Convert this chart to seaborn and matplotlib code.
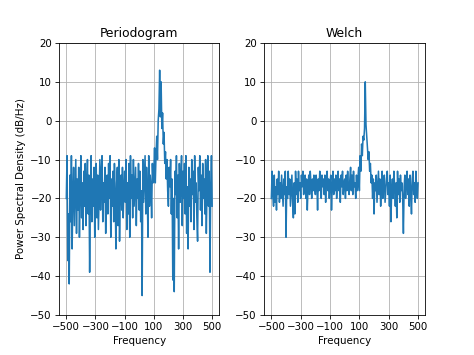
import numpy as np
import pandas as pd
import matplotlib
matplotlib.use("Agg")
import matplotlib.pyplot as plt
import seaborn as sns

# Periodogram PSD (dB/Hz), frequencies -500..500 step 5
periodogram_db = [
    -20, -9, -36, -24, -42, -14, -26, -9, -33, -18,
    -12, -27, -19, -10, -29, -15, -23, -12, -30, -18,
    -9, -25, -16, -28, -13, -22, -11, -27, -17, -10,
    -24, -14, -39, -19, -9, -26, -15, -22, -12, -30,
    -17, -11, -25, -14, -28, -19, -10, -23, -13, -9,
    -26, -16, -21, -12, -29, -18, -14, -24, -11, -20,
    -9, -30, -15, -22, -13, -26, -11, -19, -33, -16,
    -12, -27, -10, -31, -18, -14, -23, -12, -25, -17,
    -13, -21, -10, -28, -16, -24, -11, -30, -9, -20,
    -14, -25, -10, -22, -17, -12, -27, -15, -20, -11,
    -23, -13, -26, -18, -45, -10, -21, -15, -9, -24,
    -12, -19, -30, -9, -22, -14, -17, -25, -11, -16,
    -13, -7, -16, -9, -4, -10, 0, 3, 13, 1,
    10, -2, 2, -6, -3, -11, -8, -15, -10, -18,
    -22, -12, -17, -10, -24, -15, -41, -20, -44, -13,
    -19, -9, -25, -14, -33, -11, -21, -16, -9, -27,
    -13, -20, -11, -24, -9, -29, -17, -33, -12, -22,
    -15, -26, -10, -19, -13, -28, -9, -21, -16, -25,
    -31, -12, -18, -9, -23, -14, -27, -11, -20, -15,
    -24, -10, -29, -17, -9, -22, -13, -39, -18, -9,
    -22,
]

# Welch PSD (dB/Hz), frequencies -500..500 step 5
welch_db = [
    -20, -13, -19, -22, -14, -21, -17, -23, -15, -19,
    -13, -21, -16, -20, -14, -18, -22, -15, -19, -13,
    -30, -17, -20, -13, -19, -15, -22, -18, -14, -21,
    -25, -16, -24, -13, -19, -15, -21, -13, -18, -16,
    -20, -14, -17, -13, -19, -16, -14, -20, -15, -23,
    -17, -14, -19, -13, -16, -20, -15, -18, -14, -17,
    -19, -14, -16, -23, -15, -18, -13, -17, -20, -14,
    -17, -15, -19, -14, -21, -16, -13, -18, -15, -20,
    -16, -14, -23, -17, -13, -19, -15, -18, -14, -20,
    -16, -13, -18, -15, -21, -14, -17, -13, -19, -16,
    -15, -20, -14, -18, -13, -17, -19, -15, -12, -18,
    -14, -19, -13, -17, -16, -20, -14, -18, -15, -12,
    -18, -9, -13, -6, -9, -4, -5, -2, 10, -1,
    -4, -7, -10, -8, -13, -11, -16, -14, -20, -15,
    -24, -16, -18, -14, -21, -17, -13, -19, -15, -22,
    -17, -13, -20, -16, -14, -21, -18, -15, -13, -19,
    -16, -22, -14, -26, -18, -15, -20, -13, -17, -22,
    -16, -25, -13, -19, -15, -21, -14, -18, -16, -20,
    -29, -17, -14, -20, -16, -13, -19, -15, -22, -14,
    -18, -24, -15, -13, -19, -16, -21, -13, -17, -20,
    -16,
]

freq_p = np.linspace(-500, 500, len(periodogram_db))
freq_w = np.linspace(-500, 500, len(welch_db))

titles = ["Periodogram", "Welch"]
yticks = [-50, -40, -30, -20, -10, 0, 10, 20]
xticks = [-500, -300, -100, 100, 300, 500]

df_p = pd.DataFrame({"Frequency": freq_p, "psd": periodogram_db})
df_w = pd.DataFrame({"Frequency": freq_w, "psd": welch_db})

fig = plt.figure(figsize=(6.4, 355 / 74.0625), dpi=74.0625)
ax0 = fig.add_axes([0.1245, 0.1127, 0.3385, 0.7662])
ax1 = fig.add_axes([0.5570, 0.1127, 0.3405, 0.7662])

for ax, df, title in [(ax0, df_p, titles[0]), (ax1, df_w, titles[1])]:
    sns.lineplot(data=df, x="Frequency", y="psd", ax=ax, color="#1f77b4",
                 linewidth=1.5, estimator=None, sort=False)
    ax.set_title(title, fontsize=12)
    ax.set_xticks(xticks)
    ax.set_yticks(yticks)
    ax.set_xlim(-550, 550)
    ax.set_ylim(-50, 20)
    ax.grid(True, color="#b0b0b0", linewidth=0.8)
    ax.set_axisbelow(True)
    ax.set_xlabel("Frequency", fontsize=10)
    ax.tick_params(labelsize=10)

ax0.set_ylabel("Power Spectral Density (dB/Hz)", fontsize=10)
ax1.set_ylabel("")

fig.savefig("out.png", dpi=74.0625)
